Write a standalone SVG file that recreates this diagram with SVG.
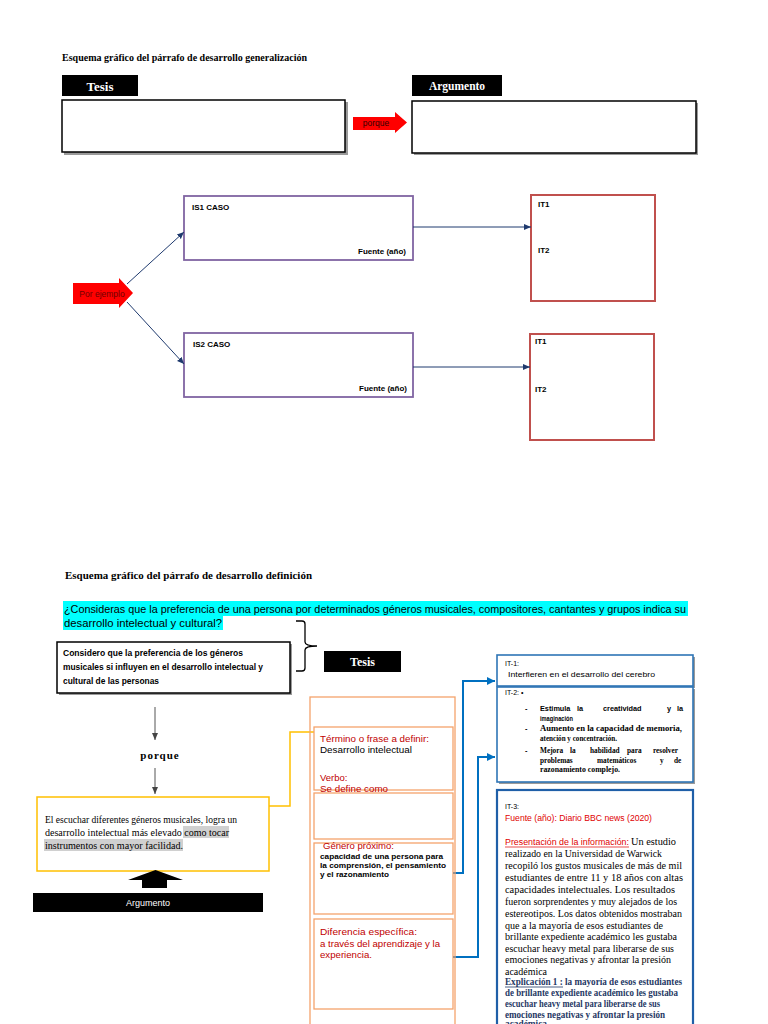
<svg xmlns="http://www.w3.org/2000/svg" width="768" height="1024" viewBox="0 0 768 1024">
<defs>
<style>
.serifb{font-family:"Liberation Serif","Times New Roman",serif;font-weight:bold}
.serif{font-family:"Liberation Serif","Times New Roman",serif}
.sans{font-family:"Liberation Sans",Arial,sans-serif}
.sansb{font-family:"Liberation Sans",Arial,sans-serif;font-weight:bold}
.blk{fill:#000}
.wbox{fill:#fff;stroke:#000;stroke-width:1.5}
.shadow{fill:#9a9a9a}
.purple{fill:#fff;stroke:#8064A2;stroke-width:1.8}
.redbox{fill:#fff;stroke:#C0504D;stroke-width:2}
.orange{fill:none;stroke:#F4A36C;stroke-width:1.3}
.bluebox{fill:#fff;stroke:#2E75B6;stroke-width:1.6}
.red{fill:#C00000}
.navy{stroke:#1F3A6E;stroke-width:1;fill:none}
.gray{stroke:#555;stroke-width:1;fill:none}
.bconn{stroke:#0070C0;stroke-width:2;fill:none}
</style>
<marker id="navyhead" markerWidth="8" markerHeight="8" refX="7" refY="4" orient="auto" markerUnits="userSpaceOnUse"><path d="M0,1 L7,4 L0,7 Z" fill="#1F3A6E"/></marker>
<marker id="grayhead" markerWidth="8" markerHeight="8" refX="7" refY="4" orient="auto" markerUnits="userSpaceOnUse"><path d="M0,1 L7,4 L0,7 Z" fill="#444"/></marker>
<marker id="bluehead" markerWidth="9" markerHeight="9" refX="8" refY="4.5" orient="auto" markerUnits="userSpaceOnUse"><path d="M0,0.5 L8,4.5 L0,8.5 Z" fill="#0070C0"/></marker>
</defs>
<rect width="768" height="1024" fill="#fff"/>

<!-- Section 1 -->
<text class="serifb" x="62" y="61" font-size="9.5" textLength="245" lengthAdjust="spacingAndGlyphs">Esquema gráfico del párrafo de desarrollo generalización</text>

<g id="tesis1">
<rect x="62" y="75" width="76" height="21" class="blk"/>
<text class="serifb" x="100" y="90.5" font-size="13" fill="#fff" text-anchor="middle">Tesis</text>
<rect x="64" y="102" width="284" height="53" class="shadow"/>
<rect x="62" y="100" width="283" height="52" class="wbox"/>
</g>

<g id="porque1">
<polygon points="353,117 395,117 395,112 407,122.5 395,133 395,130 353,130" fill="#FF0000"/>
<text class="sans" x="376" y="125.5" font-size="8.5" text-anchor="middle" fill="#300">porque</text>
</g>

<g id="argumento1">
<rect x="412" y="75" width="90" height="21" class="blk"/>
<text class="serifb" x="457" y="89.5" font-size="11.5" fill="#fff" text-anchor="middle">Argumento</text>
<rect x="414" y="103" width="284" height="52" class="shadow"/>
<rect x="412" y="101" width="284" height="52" class="wbox"/>
</g>

<g id="porejemplo">
<polygon points="73,283 119,283 119,278 133,293 119,308 119,304 73,304" fill="#FF0000"/>
<text class="sans" x="102" y="296.5" font-size="8.5" text-anchor="middle" fill="#700000">Por ejemplo</text>
</g>

<g id="is1">
<rect x="184" y="196" width="229" height="64" class="purple"/>
<text class="sansb" x="192" y="210" font-size="8">IS1 CASO</text>
<text class="sansb" x="406" y="254" font-size="8" text-anchor="end">Fuente (año)</text>
</g>
<g id="is2">
<rect x="184" y="333" width="229" height="64" class="purple"/>
<text class="sansb" x="193" y="347" font-size="8">IS2 CASO</text>
<text class="sansb" x="407" y="391" font-size="8" text-anchor="end">Fuente (año)</text>
</g>

<g id="it-a">
<rect x="531" y="195" width="124" height="106" class="redbox"/>
<text class="sansb" x="538" y="207" font-size="8">IT1</text>
<text class="sansb" x="538" y="253" font-size="8">IT2</text>
</g>
<g id="it-b">
<rect x="530" y="334" width="124" height="106" class="redbox"/>
<text class="sansb" x="535" y="344" font-size="8">IT1</text>
<text class="sansb" x="535" y="392" font-size="8">IT2</text>
</g>

<g id="connectors">
<line x1="127" y1="284" x2="184" y2="232" class="navy" marker-end="url(#navyhead)"/>
<line x1="127" y1="302" x2="184" y2="364" class="navy" marker-end="url(#navyhead)"/>
<line x1="413" y1="227" x2="531" y2="227" class="navy" marker-end="url(#navyhead)"/>
<line x1="413" y1="367" x2="530" y2="367" class="navy" marker-end="url(#navyhead)"/>
<line x1="155" y1="707" x2="155" y2="740" class="gray" marker-end="url(#grayhead)"/>
<line x1="155" y1="768" x2="155" y2="794" class="gray" marker-end="url(#grayhead)"/>
<polyline points="269,806 290,806 290,732 314,732" fill="none" stroke="#FFC000" stroke-width="1.5"/>
<polyline points="453,873 463,873 463,681 495,681" class="bconn" marker-end="url(#bluehead)"/>
<polyline points="453,957 478,957 478,757 495,757" class="bconn" marker-end="url(#bluehead)"/>
</g>

<!-- Section 2 -->
<text class="serifb" x="65" y="579" font-size="9.5" textLength="247" lengthAdjust="spacingAndGlyphs">Esquema gráfico del párrafo de desarrollo definición</text>

<g id="pregunta">
<rect x="63" y="601" width="625" height="15" fill="#00FFFF"/>
<rect x="63" y="616" width="160" height="14" fill="#00FFFF"/>
<text class="sans" x="64" y="612.5" font-size="10.5" textLength="622" lengthAdjust="spacingAndGlyphs">¿Consideras que la preferencia de una persona por determinados géneros musicales, compositores, cantantes y grupos indica su</text>
<text class="sans" x="64" y="626.5" font-size="10.5" textLength="158" lengthAdjust="spacingAndGlyphs">desarrollo intelectual y cultural?</text>
</g>

<g id="llave">
<path d="M296,621 H302 Q305,621 305,624 V642 Q305,646 317,646 Q305,646 305,650 V668 Q305,671 302,671 H296" fill="none" stroke="#000" stroke-width="1.3"/>
</g>

<g id="considero">
<rect x="59" y="644" width="233" height="51" class="shadow"/>
<rect x="57" y="642" width="233" height="51" class="wbox"/>
<text class="sansb" x="63" y="656" font-size="8.3" textLength="180" lengthAdjust="spacingAndGlyphs">Considero que la preferencia de los géneros</text>
<text class="sansb" x="63" y="670" font-size="8.3" textLength="200" lengthAdjust="spacingAndGlyphs">musicales si influyen en el desarrollo intelectual y</text>
<text class="sansb" x="63" y="684" font-size="8.3" textLength="96" lengthAdjust="spacingAndGlyphs">cultural de las personas</text>
</g>

<g id="tesis2">
<rect x="324" y="651" width="77" height="21" class="blk"/>
<text class="serifb" x="362.5" y="666" font-size="12" fill="#fff" text-anchor="middle">Tesis</text>
</g>

<text class="serifb" x="160" y="759" font-size="11" text-anchor="middle" letter-spacing="1">porque</text>

<g id="argumento2">
<rect x="37" y="797" width="232" height="74" fill="#fff" stroke="#FFC000" stroke-width="1.5"/>
<rect x="183" y="826" width="46" height="12" fill="#D0D0D0"/>
<rect x="44" y="839" width="139" height="12" fill="#D0D0D0"/>
<text class="serif" x="45" y="823" font-size="9.5" textLength="192" lengthAdjust="spacingAndGlyphs">El escuchar diferentes géneros musicales, logra un</text>
<text class="serif" x="45" y="836" font-size="9.5" textLength="184" lengthAdjust="spacingAndGlyphs">desarrollo intelectual más elevado como tocar</text>
<text class="serif" x="45" y="849" font-size="9.5" textLength="138" lengthAdjust="spacingAndGlyphs">instrumentos con mayor facilidad.</text>
<polygon points="128,880 155.5,870 183,880 167,880 167,888 142,888 142,880" fill="#000"/>
<rect x="33" y="893" width="230" height="19" class="blk"/>
<text class="sans" x="148" y="906" font-size="9" fill="#fff" text-anchor="middle">Argumento</text>
</g>

<g id="definicion">
<rect x="310" y="697" width="145" height="340" class="orange"/>
<rect x="314" y="727" width="139" height="63" class="orange"/>
<text class="sans red" x="320" y="742" font-size="9.5" textLength="109" lengthAdjust="spacingAndGlyphs">Término o frase a definir:</text>
<text class="sans" x="320" y="753" font-size="9.5" textLength="92" lengthAdjust="spacingAndGlyphs">Desarrollo intelectual</text>
<text class="sans red" x="320" y="781" font-size="9.5">Verbo:</text>
<text class="sans red" x="320" y="792" font-size="9.5" textLength="68" lengthAdjust="spacingAndGlyphs">Se define como</text>
<rect x="314" y="793" width="139" height="46" class="orange"/>
<rect x="314" y="843" width="139" height="71" class="orange"/>
<text class="sans red" x="323" y="849" font-size="9.5" textLength="71" lengthAdjust="spacingAndGlyphs">Género próximo:</text>
<text class="sansb" x="320" y="859" font-size="7.6" textLength="123" lengthAdjust="spacingAndGlyphs">capacidad de una persona para</text>
<text class="sansb" x="320" y="868" font-size="7.6" textLength="126" lengthAdjust="spacingAndGlyphs">la comprensión, el pensamiento</text>
<text class="sansb" x="320" y="877" font-size="7.6" textLength="69" lengthAdjust="spacingAndGlyphs">y el razonamiento</text>
<rect x="314" y="919" width="139" height="90" class="orange"/>
<text class="sans red" x="320" y="935" font-size="9.5" textLength="97" lengthAdjust="spacingAndGlyphs">Diferencia específica:</text>
<text class="sans red" x="320" y="947" font-size="9.5" textLength="120" lengthAdjust="spacingAndGlyphs">a través del aprendizaje y la</text>
<text class="sans red" x="320" y="958" font-size="9.5" textLength="52" lengthAdjust="spacingAndGlyphs">experiencia.</text>
</g>

<g id="it1">
<rect x="499" y="657" width="196" height="31" class="shadow"/>
<rect x="497" y="655" width="196" height="31" class="bluebox"/>
<text class="sans" x="505" y="666" font-size="7">IT-1:</text>
<text class="sans" x="508" y="676.5" font-size="7.3" textLength="147" lengthAdjust="spacingAndGlyphs">Interfieren en el desarrollo del cerebro</text>
</g>

<g id="it2">
<rect x="499" y="689" width="196" height="95" class="shadow"/>
<rect x="497" y="687" width="196" height="95" class="bluebox"/>
<text class="sans" x="505" y="695" font-size="7">IT-2: •</text>
<g class="sansb" font-size="7.3">
<text x="525" y="711">-</text>
<text y="711"><tspan x="540">Estimula</tspan><tspan x="577">la</tspan><tspan x="603">creatividad</tspan><tspan x="667">y</tspan><tspan x="677">la</tspan></text>
<text x="540" y="720.5" textLength="33" lengthAdjust="spacingAndGlyphs">imaginación</text>
<text x="525" y="731">-</text>
<text x="540" y="731" textLength="142" lengthAdjust="spacingAndGlyphs" font-family="Liberation Serif, serif">Aumento en la capacidad de memoria,</text>
<text x="540" y="740.5" textLength="77" lengthAdjust="spacingAndGlyphs" font-family="Liberation Serif, serif">atención y concentración.</text>
<text x="525" y="753">-</text>
<text y="753" font-family="Liberation Serif, serif"><tspan x="540">Mejora</tspan><tspan x="570">la</tspan><tspan x="590">habilidad</tspan><tspan x="627">para</tspan><tspan x="653">resolver</tspan></text>
<text y="762.5" font-family="Liberation Serif, serif"><tspan x="540">problemas</tspan><tspan x="597">matemáticos</tspan><tspan x="660">y</tspan><tspan x="674">de</tspan></text>
<text x="540" y="772" textLength="80" lengthAdjust="spacingAndGlyphs" font-family="Liberation Serif, serif">razonamiento complejo.</text>
</g>
</g>

<g id="it3">
<rect x="497" y="790" width="196" height="250" fill="#fff" stroke="#1F5FA8" stroke-width="2.2"/>
<text class="sans" x="505" y="809" font-size="7">IT-3:</text>
<text class="sans" x="505" y="821" font-size="8.3" style="fill:#E00000" textLength="147" lengthAdjust="spacingAndGlyphs">Fuente (año): Diario BBC news (2020)</text>
<text class="sans" x="505" y="845" font-size="8.3" style="fill:#E00000" textLength="124" lengthAdjust="spacingAndGlyphs">Presentación de la información:</text>
<line x1="505" y1="847" x2="629" y2="847" stroke="#E00000" stroke-width="0.7"/>
<g class="serif" font-size="10">
<text x="631" y="845" textLength="45" lengthAdjust="spacingAndGlyphs">Un estudio</text>
<text x="505" y="857" textLength="157" lengthAdjust="spacingAndGlyphs">realizado en la Universidad de Warwick</text>
<text x="505" y="869" textLength="177" lengthAdjust="spacingAndGlyphs">recopiló los gustos musicales de más de mil</text>
<text x="505" y="881" textLength="178" lengthAdjust="spacingAndGlyphs">estudiantes de entre 11 y 18 años con altas</text>
<text x="505" y="893" textLength="170" lengthAdjust="spacingAndGlyphs">capacidades intelectuales. Los resultados</text>
<text x="505" y="905" textLength="172" lengthAdjust="spacingAndGlyphs">fueron sorprendentes y muy alejados de los</text>
<text x="505" y="917" textLength="177" lengthAdjust="spacingAndGlyphs">estereotipos. Los datos obtenidos mostraban</text>
<text x="505" y="928.5" textLength="158" lengthAdjust="spacingAndGlyphs">que a  la mayoría de esos estudiantes de</text>
<text x="505" y="940" textLength="172" lengthAdjust="spacingAndGlyphs">brillante expediente académico les gustaba</text>
<text x="505" y="951.5" textLength="169" lengthAdjust="spacingAndGlyphs">escuchar heavy metal para liberarse de sus</text>
<text x="505" y="963" textLength="166" lengthAdjust="spacingAndGlyphs">emociones negativas y afrontar la presión</text>
<text x="505" y="974.5" textLength="42" lengthAdjust="spacingAndGlyphs">académica</text>
</g>
<g class="serifb" font-size="10" fill="#1F3864">
<text x="505" y="985" textLength="177" lengthAdjust="spacingAndGlyphs">Explicación 1 : la mayoría de esos estudiantes</text>
<text x="505" y="996" textLength="173" lengthAdjust="spacingAndGlyphs">de brillante expediente académico les gustaba</text>
<text x="505" y="1007" textLength="155" lengthAdjust="spacingAndGlyphs">escuchar heavy metal para liberarse de sus</text>
<text x="505" y="1018" textLength="160" lengthAdjust="spacingAndGlyphs">emociones negativas y afrontar la presión</text>
<text x="505" y="1027" textLength="42" lengthAdjust="spacingAndGlyphs">académica</text>
</g>
<line x1="505" y1="987" x2="563" y2="987" stroke="#1F3864" stroke-width="0.8"/>
</g>
</svg>
